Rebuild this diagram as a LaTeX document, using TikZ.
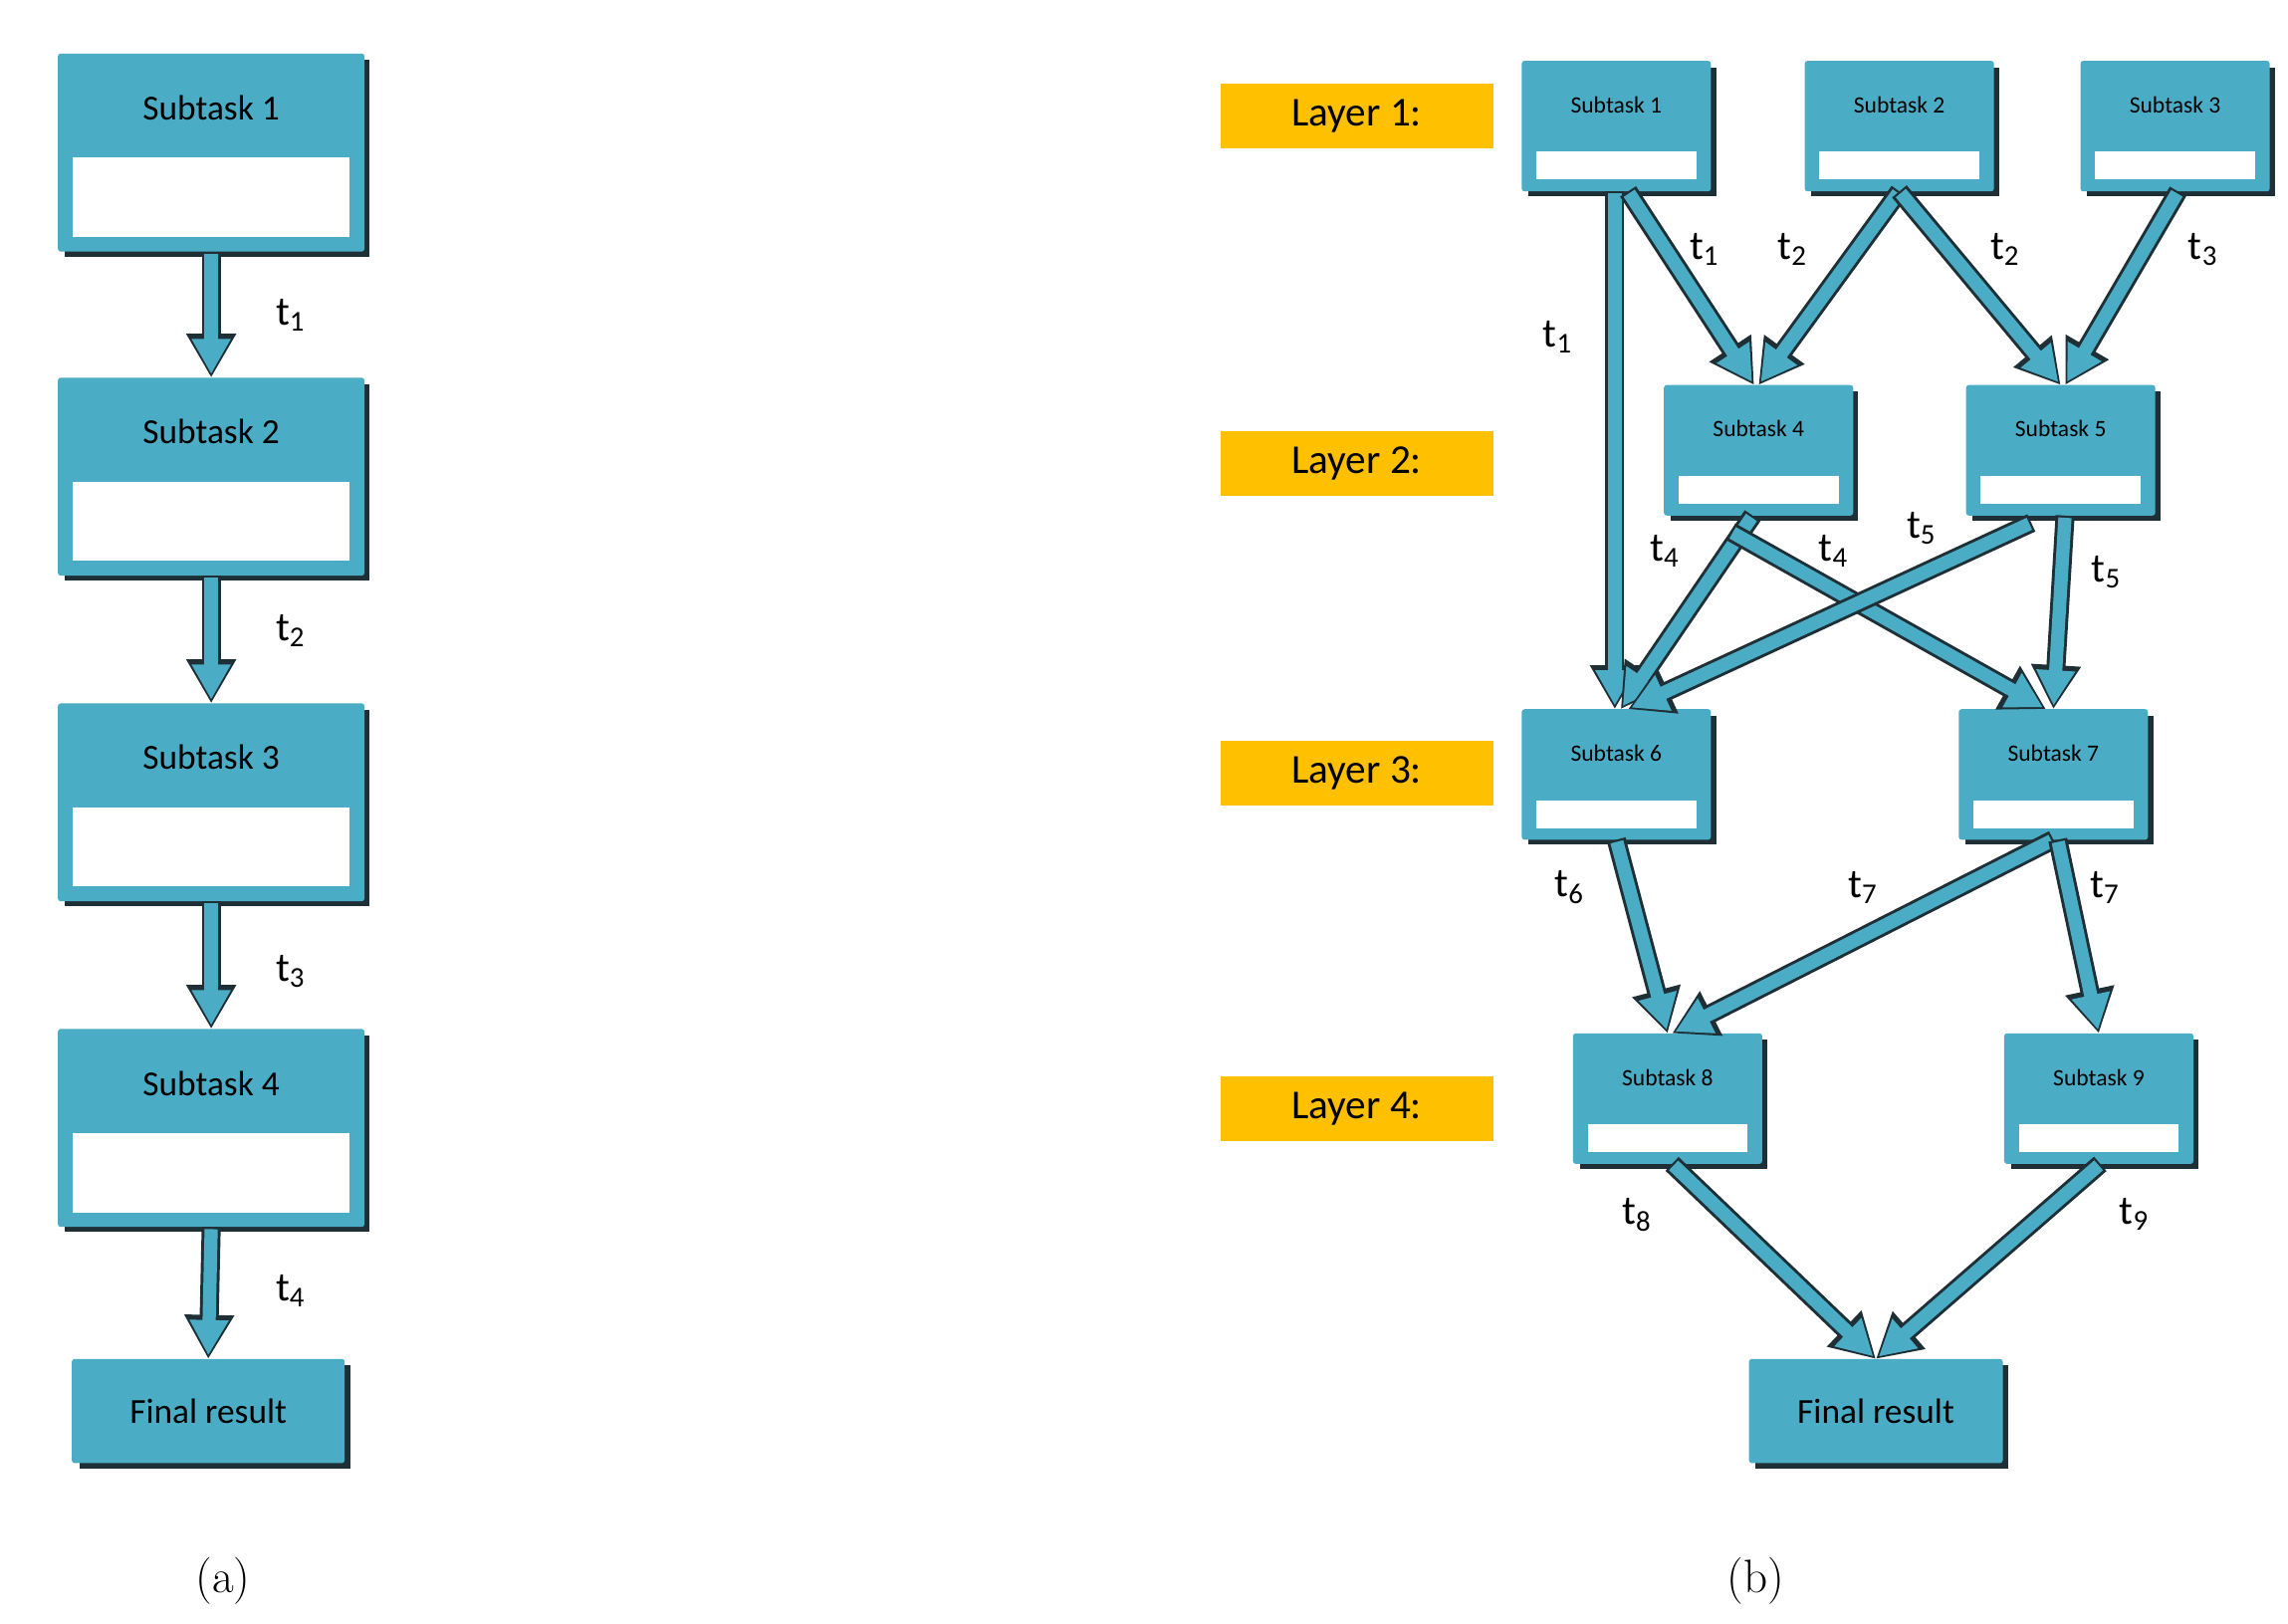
\documentclass[tikz,border=0pt]{standalone}
\usepackage{fontspec}
\setmainfont{Carlito}
\newfontfamily\lmr{Latin Modern Roman}
\usetikzlibrary{calc,arrows.meta}
\definecolor{tb}{HTML}{4BACC6}
\definecolor{tdark}{HTML}{1E2F36}
\definecolor{lay}{HTML}{FFC000}
\tikzset{
 box/.style={draw=tb,fill=tb,line width=1pt,rounded corners=1.5pt},
 shad/.style={fill=tdark},
 bigt/.style={font=\fontsize{24}{28}\selectfont},
 smt/.style={font=\fontsize{16}{19}\selectfont},
 tl/.style={font=\fontsize{28}{32}\selectfont},
 laybox/.style={fill=lay,minimum width=186pt,minimum height=44pt,font=\fontsize{28}{32}\selectfont},
 ao/.style={draw=tdark,line width=13pt,-{Triangle[width=32pt,length=30pt]}},
 ai/.style={draw=tb,line width=9pt,-{Triangle[width=25pt,length=24pt]},shorten >=2.5pt,shorten <=1.5pt},
}
\newcommand{\barr}[2]{\draw[ao] #1 -- #2; \draw[ai] #1 -- #2;}
\newcommand{\mybox}[6]{% name, cx, cy, w, h, label style + text
 \fill[shad] (#2-#4/2+4,#3-#5/2+4) rectangle (#2+#4/2+4,#3+#5/2+4);
 \node[box,minimum width=#4pt,minimum height=#5pt] (#1) at (#2,#3) {};
 #6}
\begin{document}
\begin{tikzpicture}[x=1pt,y=-1pt]
\useasboundingbox (0,0) rectangle (1560,1107);
% left
\foreach \n/\y in {1/104,2/325,3/547,4/769}{
 \fill[shad] (44,\y-67+4) rectangle (252,\y+67+4);
 \node[box,minimum width=208pt,minimum height=134pt] (L\n) at (144,\y) {};
 \node[bigt] at ($(L\n.north)+(0,37)$) {Subtask \n};
 \fill[white] ($(L\n.south west)+(10,-10)$) rectangle ($(L\n.south east)+(-10,-64)$);
}
\fill[shad] (54,931) rectangle (239,1001);
\node[box,minimum width=185pt,minimum height=70pt,bigt] (LF) at (142,962) {Final result};
\barr{(L1.south)}{(L2.north)}
\barr{(L2.south)}{(L3.north)}
\barr{(L3.south)}{(L4.north)}
\barr{(L4.south)}{(LF.north)}
\foreach \n/\y in {1/215,2/430,3/662,4/880}{\node[tl] at (198,\y) {t\textsubscript{\n}};}
\node[font=\lmr\fontsize{32}{36}\selectfont] at (152,1078) {(a)};
% right layers
\foreach \n/\y in {1/79,2/316,3/527,4/756}{\node[laybox] (Y\n) at (925,\y) {Layer \n:};}
% right boxes
\foreach \n/\x/\y in {1/1102/86,2/1295/86,3/1483/86,4/1199/307,5/1405/307,6/1102/528,7/1400/528,8/1137/749,9/1431/749}{
 \fill[shad] (\x-64+4,\y-44+4) rectangle (\x+64+4,\y+44+4);
 \node[box,minimum width=128pt,minimum height=88pt] (S\n) at (\x,\y) {};
 \node[smt] at ($(S\n.north)+(0,30)$) {Subtask \n};
 \fill[white] ($(S\n.south west)+(10,-8)$) rectangle ($(S\n.south east)+(-10,-27)$);
}
\fill[shad] (1197,931) rectangle (1369,1001);
\node[box,minimum width=172pt,minimum height=70pt,bigt] (RF) at (1279,962) {Final result};
\barr{($(S1.south)+(-1,0)$)}{($(S6.north)+(-1,0)$)}
\barr{($(S1.south)+(8,0)$)}{($(S4.north)+(-3,0)$)}
\barr{(S2.south)}{(S4.north)}
\barr{(S2.south)}{(S5.north)}
\barr{($(S3.south)+(2,0)$)}{($(S5.north)+(3,0)$)}
\barr{($(S4.south)+(-4,0)$)}{($(S6.north)+(3,0)$)}
\barr{($(S4.south)+(-19,11)$)}{($(S7.north)+(-5,0)$)}
\barr{($(S5.south)+(-20,5)$)}{($(S6.north)+(8,0)$)}
\barr{($(S5.south)+(3,0)$)}{(S7.north)}
\barr{(S6.south)}{(S8.north)}
\barr{(S7.south)}{($(S8.north)+(3,0)$)}
\barr{($(S7.south)+(3,0)$)}{(S9.north)}
\barr{($(S8.south)+(3,0)$)}{(RF.north)}
\barr{($(S9.south)+(1,0)$)}{(RF.north)}
\foreach \t/\x/\y in {1/1062/230,1/1162/170,2/1222/170,2/1367/170,3/1502/170,4/1135/376,4/1250/376,5/1310/360,5/1436/390,6/1070/605,7/1270/605,7/1435/605,8/1116/828,9/1455/828}{\node[tl] at (\x,\y) {t\textsubscript{\t}};}
\node[font=\lmr\fontsize{32}{36}\selectfont] at (1197,1078) {(b)};
\end{tikzpicture}
\end{document}
